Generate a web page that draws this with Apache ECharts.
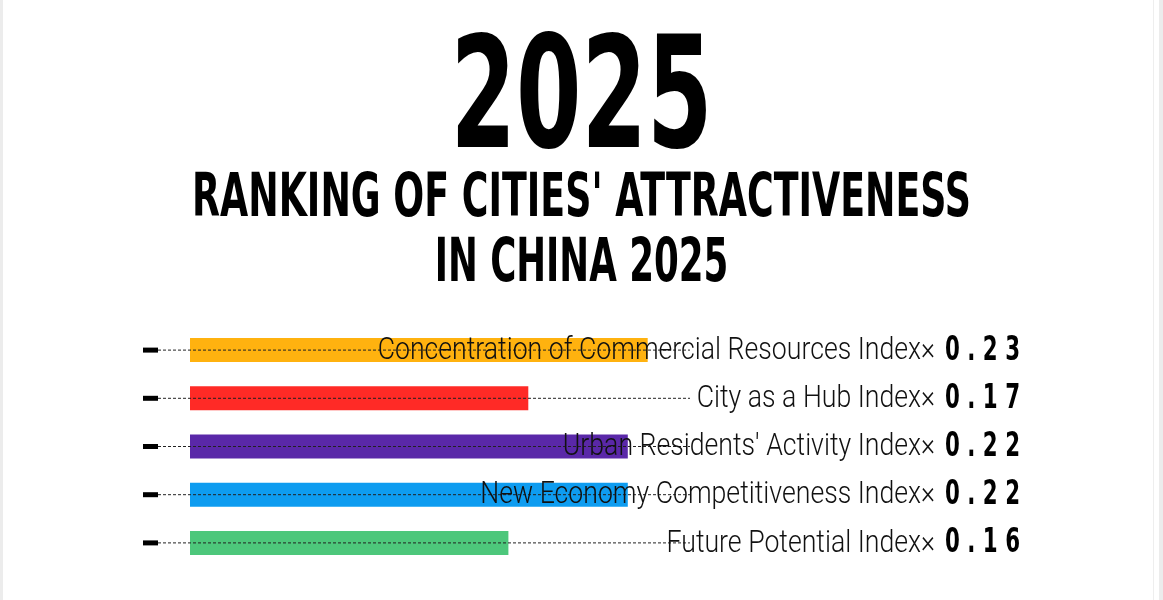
<!DOCTYPE html>
<html>

<head>
        <meta charset="utf-8">
        <title>Ranking of Cities' Attractiveness in China 2025</title>
        <script src="https://cdn.jsdelivr.net/npm/echarts@6.0.0/dist/echarts.min.js"></script>
        <style>
                html,
                body {
                        height: 100%;
                        margin: 0;
                        background-color: #ffffff;
                }

                #chart {
                        width: 1163px;
                        height: 600px;
                }
        </style>
</head>

<body>
        <div id="chart"></div>

        <script type="text/javascript">

//-------------------------data_start----------------------------------
var categories = ['Concentration of Commercial Resources Index', 'City as a Hub Index', "Urban Residents' Activity Index", 'New Economy Competitiveness Index', 'Future Potential Index']
var weights = [0.23, 0.17, 0.22, 0.22, 0.16]
var bar_colors = ['#FFB20F', '#FF2A26', '#5A28A8', '#0E9CF0', '#4DC77B']
var big_title = '2025'
var sub_title = ["RANKING OF CITIES' ATTRACTIVENESS", 'IN CHINA 2025']
//-------------------------data_end------------------------------------

                var narrow = '"DejaVu Sans Condensed", "Liberation Sans", sans-serif'
                var light = 'Roboto, "Liberation Sans", sans-serif'

                var seriesData = []
                for (var i = 0; i < weights.length; i++) {
                        seriesData.push([weights[i], i])
                }

                function renderRow(params, api) {
                        var idx = params.dataIndex
                        var v = api.value(0)
                        var start = api.coord([0, api.value(1)])
                        var end = api.coord([v, api.value(1)])
                        var cy = start[1]
                        var barH = 24

                        return {
                                type: 'group',
                                children: [
                                        // 左边小黑条
                                        {
                                                type: 'rect',
                                                shape: { x: 143, y: cy - 2.5, width: 15, height: 5 },
                                                style: { fill: '#000' }
                                        },
                                        // 彩色条
                                        {
                                                type: 'rect',
                                                shape: { x: start[0], y: cy - barH / 2, width: end[0] - start[0], height: barH },
                                                style: { fill: bar_colors[idx] }
                                        },
                                        // 虚线
                                        {
                                                type: 'line',
                                                shape: { x1: 158, y1: cy, x2: 690, y2: cy },
                                                style: { stroke: '#222', lineWidth: 1, lineDash: [3, 2] }
                                        },
                                        // 指标名称
                                        {
                                                type: 'text',
                                                x: 935,
                                                y: cy + 1,
                                                scaleX: 0.86,
                                                style: {
                                                        text: categories[idx] + '×',
                                                        align: 'right',
                                                        verticalAlign: 'middle',
                                                        font: '300 31px ' + light,
                                                        fill: '#111'
                                                }
                                        },
                                        // 权重
                                        {
                                                type: 'text',
                                                x: 945,
                                                y: cy + 1,
                                                scaleX: 0.72,
                                                style: {
                                                        text: v.toFixed(2).split('').join(' '),
                                                        align: 'left',
                                                        verticalAlign: 'middle',
                                                        font: 'bold 33px ' + narrow,
                                                        fill: '#000'
                                                }
                                        }
                                ]
                        }
                }

                var option = {
                        animation: false,
                        backgroundColor: '#ffffff',
                        grid: {
                                left: 190,
                                top: 326,
                                width: 796,
                                height: 241
                        },
                        xAxis: {
                                type: 'value',
                                min: 0,
                                max: 0.4,
                                show: false
                        },
                        yAxis: {
                                type: 'category',
                                data: categories,
                                inverse: true,
                                show: false
                        },
                        graphic: [
                                // 页面边缘的浅灰边
                                { type: 'rect', shape: { x: 0, y: 0, width: 3, height: 600 }, style: { fill: '#ececec' } },
                                { type: 'rect', shape: { x: 1153, y: 0, width: 1, height: 600 }, style: { fill: '#eeeeee' } },
                                { type: 'rect', shape: { x: 1159, y: 0, width: 4, height: 600 }, style: { fill: '#ececec' } },
                                {
                                        type: 'text',
                                        x: 581.5,
                                        y: 107,
                                        scaleX: 0.675,
                                        style: {
                                                text: big_title,
                                                align: 'center',
                                                verticalAlign: 'middle',
                                                font: 'bold 155px ' + narrow,
                                                fill: '#000'
                                        }
                                },
                                {
                                        type: 'text',
                                        x: 581.5,
                                        y: 200,
                                        scaleX: 0.674,
                                        style: {
                                                text: sub_title[0],
                                                align: 'center',
                                                verticalAlign: 'middle',
                                                font: 'bold 60px ' + narrow,
                                                fill: '#000'
                                        }
                                },
                                {
                                        type: 'text',
                                        x: 581.5,
                                        y: 265,
                                        scaleX: 0.66,
                                        style: {
                                                text: sub_title[1],
                                                align: 'center',
                                                verticalAlign: 'middle',
                                                font: 'bold 60px ' + narrow,
                                                fill: '#000'
                                        }
                                }
                        ],
                        series: [
                                {
                                        type: 'custom',
                                        renderItem: renderRow,
                                        data: seriesData,
                                        clip: false,
                                        encode: { x: 0, y: 1 }
                                }
                        ]
                }

                echarts.init(document.getElementById('chart')).setOption(option, true)

        </script>
</body>

</html>
